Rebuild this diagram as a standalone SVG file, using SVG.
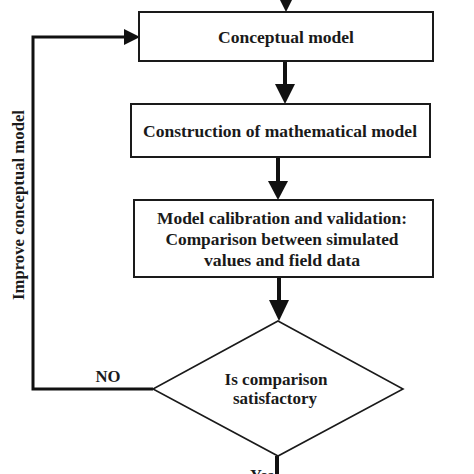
<svg xmlns="http://www.w3.org/2000/svg" width="474" height="474" viewBox="0 0 474 474">
<style>
.box{fill:#fff;stroke:#1a1a1a;stroke-width:2}
.dia{fill:#fff;stroke:#1a1a1a;stroke-width:1.6}
.t{font-family:"Liberation Serif","Times New Roman",serif;font-weight:bold;font-size:16px;fill:#1a1a1a;text-anchor:middle}
.shaft{stroke:#111;stroke-width:4;fill:none}
.fb{stroke:#111;stroke-width:3;fill:none}
.head{fill:#111}
</style>
<rect width="474" height="474" fill="#fff"/>
<g id="connectors">
<line class="shaft" x1="286" y1="0" x2="286" y2="4"/>
<polygon class="head" points="280,0 292,0 286,12"/>
<line class="shaft" x1="285" y1="61" x2="285" y2="86"/>
<polygon class="head" points="275,84 295,84 285,104"/>
<line class="shaft" x1="278" y1="157" x2="278" y2="183"/>
<polygon class="head" points="268,181 288,181 278,200"/>
<line class="shaft" x1="279" y1="277" x2="279" y2="302"/>
<polygon class="head" points="269,300 289,300 279,321"/>
<polyline class="fb" points="153,389 33,389 33,37 126,37"/>
<polygon class="head" points="124,29 140,37 124,45"/>
<line class="shaft" x1="277" y1="456" x2="277" y2="474"/>
<text class="t" x="108" y="382" textLength="25" lengthAdjust="spacingAndGlyphs">NO</text>
<text class="t" x="262" y="481" textLength="24" lengthAdjust="spacingAndGlyphs">Yes</text>
<text class="t" transform="translate(24,205) rotate(-90)" x="0" y="0" font-size="15" textLength="190" lengthAdjust="spacingAndGlyphs">Improve conceptual model</text>
</g>
<g id="node-conceptual">
<rect class="box" x="139" y="12" width="294" height="49"/>
<text class="t" x="286" y="43" textLength="136" lengthAdjust="spacingAndGlyphs">Conceptual model</text>
</g>
<g id="node-construction">
<rect class="box" x="131" y="104" width="299" height="53"/>
<text class="t" x="280" y="137" textLength="274" lengthAdjust="spacingAndGlyphs">Construction of mathematical model</text>
</g>
<g id="node-calibration">
<rect class="box" x="134" y="200" width="299" height="77"/>
<text class="t" x="282" y="224" textLength="250" lengthAdjust="spacingAndGlyphs">Model calibration and validation:</text>
<text class="t" x="282" y="245" textLength="233" lengthAdjust="spacingAndGlyphs">Comparison between simulated</text>
<text class="t" x="282" y="266" textLength="156" lengthAdjust="spacingAndGlyphs">values and field data</text>
</g>
<g id="node-decision">
<polygon class="dia" points="278,321 403,389 278,456 153,389"/>
<text class="t" x="276" y="385" textLength="103" lengthAdjust="spacingAndGlyphs">Is comparison</text>
<text class="t" x="275" y="404" textLength="84" lengthAdjust="spacingAndGlyphs">satisfactory</text>
</g>
</svg>
